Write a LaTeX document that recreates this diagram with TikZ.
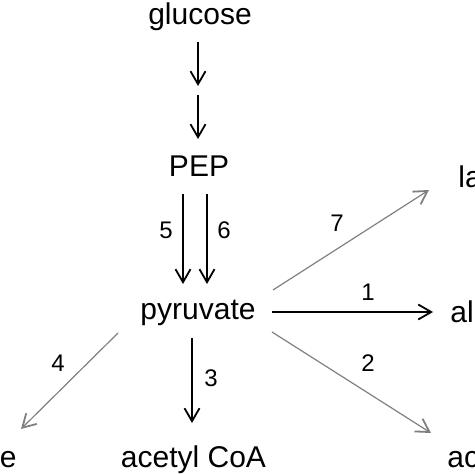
\documentclass[tikz,border=0pt]{standalone}
\usepackage{fontspec}
\setmainfont{Liberation Sans}
\usetikzlibrary{arrows.meta}
\begin{document}
\begin{tikzpicture}[x=0.5pt,y=-0.5pt,
	met/.style={font=\fontsize{15}{18}\selectfont, anchor=base, inner sep=0pt},
	enz/.style={font=\fontsize{12}{14}\selectfont, inner sep=0pt},
	flux/.style={line width=0.6pt, -{Straight Barb[length=6.5pt,width=7.5pt,line width=0.9pt]}},
	faint/.style={flux, draw=black!50}]
	\useasboundingbox (0,0) rectangle (474,474);
	% Metabolites
	\node[met] (glc) at (200,25) {glucose};
	\node[met] (pep) at (199,177) {PEP};
	\node[met] (pyr) at (198,320) {pyruvate};
	\node[met] (acoa) at (193.5,467) {acetyl CoA};
	\node[met, anchor=base west] (lac) at (458,188) {la};
	\node[met, anchor=base west] (ala) at (450,322) {al};
	\node[met, anchor=base west] (act) at (447,467) {ac};
	\node[met, anchor=base east] (lft) at (17,467) {e};
	% Arrow ends
	\coordinate (g1) at (198,42);
	\coordinate (g2) at (198,86);
	\coordinate (g3) at (198,95);
	\coordinate (g4) at (198,139);
	\coordinate (p5) at (183,194);
	\coordinate (p6) at (207,194);
	\coordinate (y5) at (183,284);
	\coordinate (y6) at (207,284);
	\coordinate (yL) at (273,290);
	\coordinate (lL) at (429,190);
	\coordinate (yA) at (272,312);
	\coordinate (aA) at (433,312);
	\coordinate (yC) at (272,332);
	\coordinate (cC) at (431,433);
	\coordinate (yD) at (192,338);
	\coordinate (dD) at (192,423);
	\coordinate (yE) at (118,333);
	\coordinate (eE) at (21,429);
	% Glycolysis
	\draw[flux] (g1) -- (g2);
	\draw[flux] (g3) -- (g4);
	\draw[flux] (p5) -- (y5);
	\draw[flux] (p6) -- (y6);
	\node[enz] (n5) at (166,230) {5};
	\node[enz] (n6) at (224,230) {6};
	% Pyruvate branches
	\draw[faint] (yL) -- (lL);
	\node[enz] (n7) at (337,223) {7};
	\draw[flux] (yA) -- (aA);
	\node[enz] (n1) at (368,292) {1};
	\draw[faint] (yC) -- (cC);
	\node[enz] (n2) at (368,363) {2};
	\draw[flux] (yD) -- (dD);
	\node[enz] (n3) at (211,378) {3};
	\draw[faint] (yE) -- (eE);
	\node[enz] (n4) at (58,363) {4};
\end{tikzpicture}
\end{document}
